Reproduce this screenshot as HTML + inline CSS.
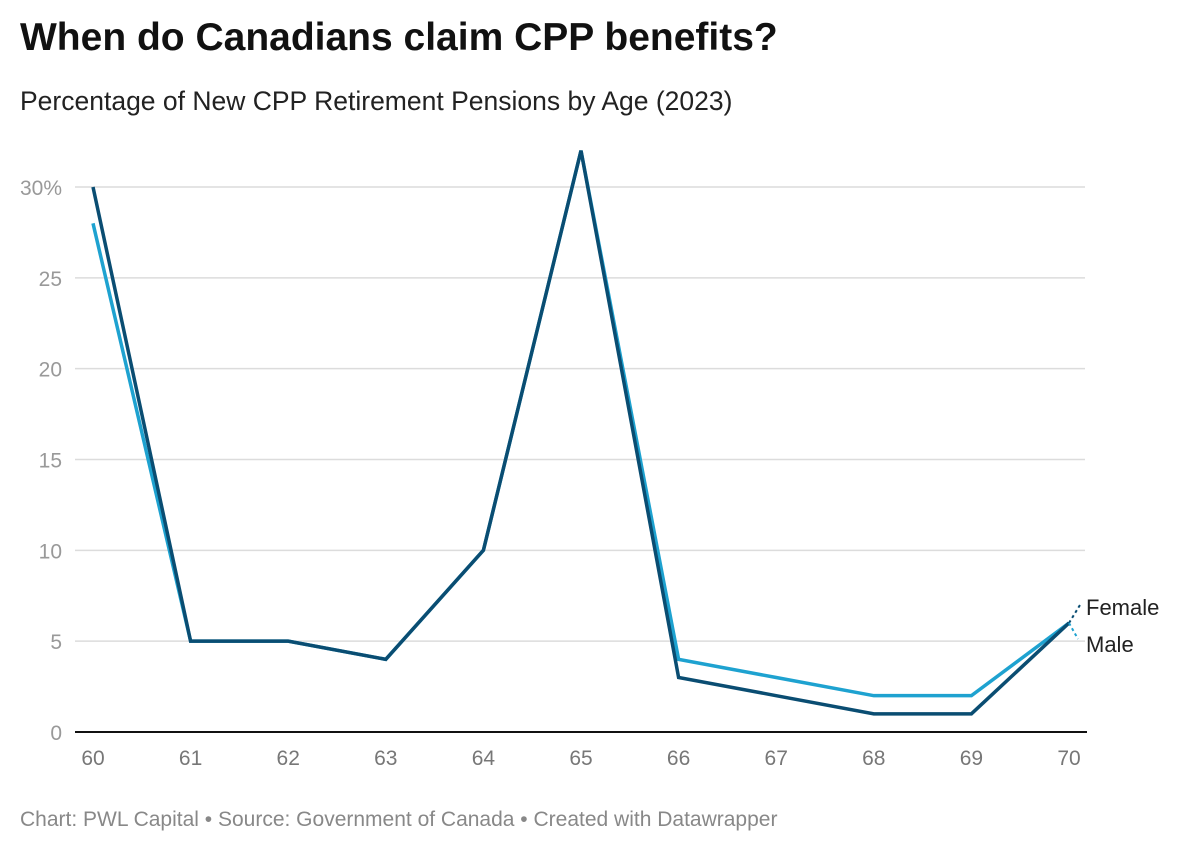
<!DOCTYPE html>
<html><head><meta charset="utf-8"><style>
body{margin:0;background:#fff;width:1200px;height:854px;overflow:hidden;font-family:"Liberation Sans",sans-serif}
h1{position:absolute;left:20px;top:16px;margin:0;font-size:39px;font-weight:bold;color:#111}
.sub{position:absolute;left:20px;top:86px;font-size:26.5px;color:#222}
.foot{position:absolute;left:20px;top:808px;font-size:21px;color:#888}
svg{position:absolute;left:0;top:0}
</style></head><body>
<h1>When do Canadians claim CPP benefits?</h1>
<div class="sub">Percentage of New CPP Retirement Pensions by Age (2023)</div>
<div class="foot">Chart: PWL Capital • Source: Government of Canada • Created with Datawrapper</div>
<svg width="1200" height="854" id="chart"></svg>
<script>
const ages=[60,61,62,63,64,65,66,67,68,69,70];
const female=[30,5,5,4,10,32,3,2,1,1,6];
const male=[28,5,5,4,10,32,4,3,2,2,6];
const yTicks=[0,5,10,15,20,25,30];
const yLabels=["0","5","10","15","20","25","30%"];
const NS="http://www.w3.org/2000/svg";
const svg=document.getElementById('chart');
const x=a=>93+(a-60)*97.6;
const y=v=>732-v*18.167;
function el(t,a){const e=document.createElementNS(NS,t);for(const k in a)e.setAttribute(k,a[k]);svg.appendChild(e);return e;}
yTicks.forEach((t,i)=>{
  if(t>0){const g=el('line',{x1:75,x2:1085,y1:y(t),y2:y(t),stroke:'#dcdcdc','stroke-width':1.5});
  
  }
  const tx=el('text',{x:62,y:y(t)+8,'text-anchor':'end','font-size':21,fill:'#999','font-family':'Liberation Sans, sans-serif'});
  tx.textContent=yLabels[i];
  
  
});
const base=el('line',{x1:75,x2:1087,y1:732,y2:732,stroke:'#111','stroke-width':2});


ages.forEach(a=>{
  const tx=el('text',{x:x(a),y:765,'text-anchor':'middle','font-size':21,fill:'#777','font-family':'Liberation Sans, sans-serif'});
  tx.textContent=a;
  
  
});
function line(vals,color,name){
  const p=el('polyline',{points:vals.map((v,i)=>x(ages[i])+','+y(v)).join(' '),fill:'none',stroke:color,'stroke-width':3.5,'stroke-linejoin':'miter'});
  
  
}
line(male,'#1ea2d0','male-line');
line(female,'#0a4d72','female-line');
const lf=y(female[10]),lm=y(male[10]);
el('line',{x1:x(70),y1:lf,x2:1080,y2:605,stroke:'#0a4d72','stroke-width':2,'stroke-dasharray':'3,3'});
el('line',{x1:x(70),y1:lm,x2:1078,y2:639,stroke:'#1ea2d0','stroke-width':2,'stroke-dasharray':'3,3'});
const f=el('text',{x:1086,y:615,'font-size':22,fill:'#222','font-family':'Liberation Sans, sans-serif'});f.textContent='Female';


const m=el('text',{x:1086,y:652,'font-size':22,fill:'#222','font-family':'Liberation Sans, sans-serif'});m.textContent='Male';


</script>
</body></html>
